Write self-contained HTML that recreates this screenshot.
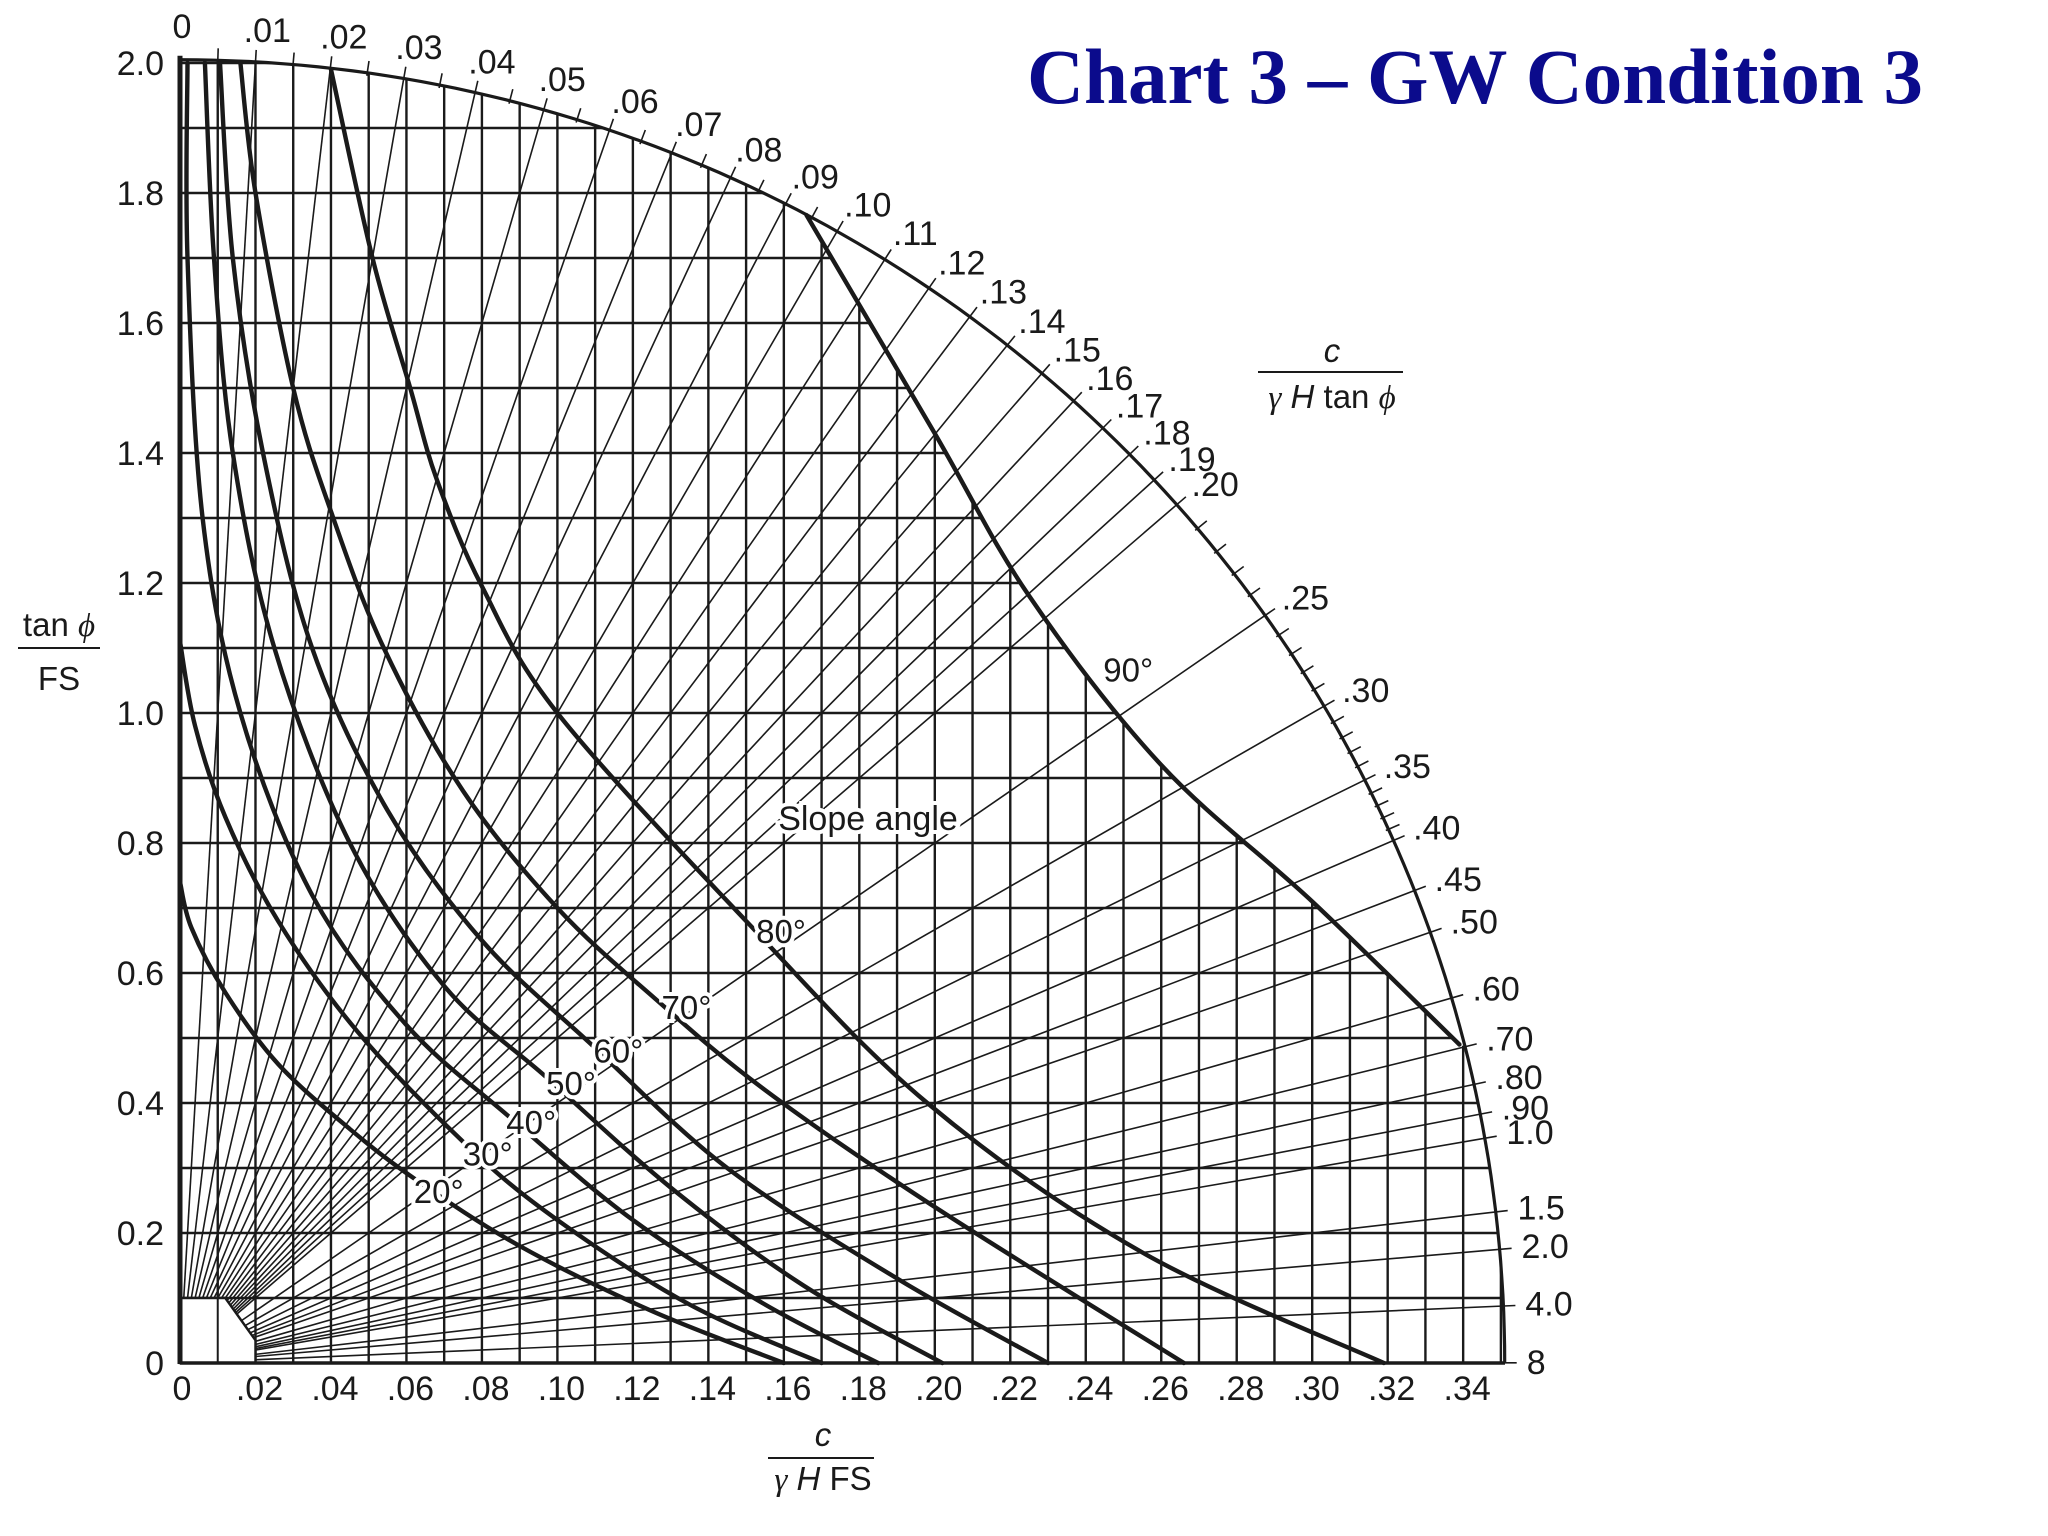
<!DOCTYPE html>
<html><head><meta charset="utf-8"><title>Chart 3 – GW Condition 3</title>
<style>
html,body{margin:0;padding:0;background:#fff;}
svg{display:block;}
text{font-family:"Liberation Sans",sans-serif;fill:#1a1a1a;}
</style></head>
<body>
<svg id="chart" width="2048" height="1536" viewBox="0 0 2048 1536" xmlns="http://www.w3.org/2000/svg">
<rect width="2048" height="1536" fill="#fff"/>
<text x="1027" y="103" textLength="896" lengthAdjust="spacingAndGlyphs" style="font-family:'Liberation Serif',serif;font-weight:bold;font-size:78px;fill:#0b0b8c">Chart 3 – GW Condition 3</text>
<g id="grid"></g><g id="rays"></g><g id="curves"></g><g id="labels"></g>
</svg>
<script>
// ---- data ----
const xTicks = [0,0.02,0.04,0.06,0.08,0.10,0.12,0.14,0.16,0.18,0.20,0.22,0.24,0.26,0.28,0.30,0.32,0.34];
const xTickLabels = ["0",".02",".04",".06",".08",".10",".12",".14",".16",".18",".20",".22",".24",".26",".28",".30",".32",".34"];
const yTicks = [0,0.2,0.4,0.6,0.8,1.0,1.2,1.4,1.6,1.8,2.0];
const yTickLabels = ["0","0.2","0.4","0.6","0.8","1.0","1.2","1.4","1.6","1.8","2.0"];
const rayValues = [0.01,0.02,0.03,0.04,0.05,0.06,0.07,0.08,0.09,0.10,0.11,0.12,0.13,0.14,0.15,0.16,0.17,0.18,0.19,0.20,0.25,0.30,0.35,0.40,0.45,0.50,0.60,0.70,0.80,0.90,1.0,1.5,2.0,4.0,1000];
const rayLabels = [".01",".02",".03",".04",".05",".06",".07",".08",".09",".10",".11",".12",".13",".14",".15",".16",".17",".18",".19",".20",".25",".30",".35",".40",".45",".50",".60",".70",".80",".90","1.0","1.5","2.0","4.0","8"];
const minorTicks = [0.005,0.015,0.025,0.035,0.045,0.055,0.065,0.075,0.085,0.095,0.21,0.22,0.23,0.24,0.26,0.27,0.28,0.29,0.31,0.32,0.33,0.34,0.36,0.37,0.38,0.39];
const slopeNames = ["20°","30°","40°","50°","60°","70°","80°","90°"];
const curve20 = [[0,0.74],[0.003,0.67],[0.012,0.57],[0.026,0.46],[0.045,0.36],[0.063,0.28],[0.09,0.18],[0.125,0.08],[0.160,0]];
const curve30 = [[0,1.11],[0.004,0.98],[0.012,0.84],[0.026,0.68],[0.047,0.51],[0.076,0.335],[0.10,0.22],[0.135,0.09],[0.170,0]];
const curve40 = [[0.002,2.0],[0.002,1.7],[0.006,1.3],[0.016,1.0],[0.035,0.72],[0.06,0.52],[0.087,0.38],[0.12,0.22],[0.155,0.09],[0.185,0]];
const curve50 = [[0.0066,2.0],[0.009,1.7],[0.014,1.4],[0.025,1.1],[0.045,0.8],[0.07,0.58],[0.097,0.44],[0.13,0.27],[0.165,0.12],[0.202,0]];
const curve60 = [[0.0106,2.0],[0.014,1.7],[0.022,1.4],[0.035,1.1],[0.055,0.85],[0.08,0.65],[0.109,0.49],[0.145,0.30],[0.19,0.13],[0.230,0]];
const curve70 = [[0.016,2.0],[0.020,1.8],[0.030,1.5],[0.040,1.31],[0.054,1.10],[0.075,0.88],[0.10,0.70],[0.126,0.56],[0.155,0.42],[0.20,0.24],[0.266,0]];
const curve80 = [[0.040,1.99],[0.051,1.70],[0.061,1.5],[0.068,1.36],[0.080,1.195],[0.100,1.0],[0.15,0.68],[0.198,0.40],[0.255,0.17],[0.319,0]];
const curve90 = [[0.166,1.766],[0.20,1.43],[0.225,1.18],[0.26,0.92],[0.30,0.71],[0.339,0.49]];
const slopeLabelPos = [[0.063,0.28],[0.076,0.335],[0.087,0.38],[0.097,0.44],[0.109,0.49],[0.126,0.56],[0.15,0.68],[0.242,1.07]];
const ellA = 0.351, ellB = 2.005;

// ---- scales ----
const X = c => 180 + c*3774;
const Y = t => 1363 - t*650;
const NS = "http://www.w3.org/2000/svg";
function mk(tag, parent, attrs){ const e=document.createElementNS(NS,tag); for(const k in attrs) e.setAttribute(k,attrs[k]); parent.appendChild(e); return e; }
function arcPt(l){ const x = 1/Math.sqrt(1/(ellA*ellA) + 1/(l*l*ellB*ellB)); return [x, x/l]; }
function ellY(c){ return c>=ellA?0:ellB*Math.sqrt(1-(c*c)/(ellA*ellA)); }
function ellX(t){ return t>=ellB?0:ellA*Math.sqrt(1-(t*t)/(ellB*ellB)); }
function smooth(pts){
  const p = pts.map(q=>[X(q[0]),Y(q[1])]);
  let d = "M"+p[0][0].toFixed(1)+","+p[0][1].toFixed(1);
  for(let i=0;i<p.length-1;i++){
    const p0=p[Math.max(0,i-1)],p1=p[i],p2=p[i+1],p3=p[Math.min(p.length-1,i+2)];
    const c1=[p1[0]+(p2[0]-p0[0])/6,p1[1]+(p2[1]-p0[1])/6];
    const c2=[p2[0]-(p3[0]-p1[0])/6,p2[1]-(p3[1]-p1[1])/6];
    d+=" C"+c1[0].toFixed(1)+","+c1[1].toFixed(1)+" "+c2[0].toFixed(1)+","+c2[1].toFixed(1)+" "+p2[0].toFixed(1)+","+p2[1].toFixed(1);
  }
  return d;
}
const svg = document.getElementById('chart');
const gGrid = document.getElementById('grid'), gRays=document.getElementById('rays'), gCurves=document.getElementById('curves'), gLab=document.getElementById('labels');

const defs = mk('defs', svg, {});
svg.insertBefore(defs, svg.firstChild);
const cp = mk('clipPath', defs, {id:'gridclip'});
let d = "M"+X(0)+","+Y(0)+" L"+X(0)+","+Y(ellB);
const pA = arcPt(0.10);
for(let i=1;i<=30;i++){ const c=pA[0]*i/30; d+=" L"+X(c).toFixed(1)+","+Y(ellY(c)).toFixed(1); }
d += " " + smooth(curve90).replace(/^M/,"L");
const pB = arcPt(0.70);
for(let i=0;i<=20;i++){ const t=pB[1]*(1-i/20); d+=" L"+X(ellX(t)).toFixed(1)+","+Y(t).toFixed(1); }
d+=" Z";
mk('path', cp, {d:d});

// grid
const gridG = mk('g', gGrid, {'clip-path':'url(#gridclip)', stroke:'#1a1a1a', 'stroke-width':'2.4', fill:'none'});


for(let k=1;k<=35;k++){ const c=k*0.01; const ln=mk('line', gridG, {x1:X(c),x2:X(c),y1:Y(0),y2:Y(ellY(c))});
  
   }
for(let k=1;k<=20;k++){ const t=k*0.1; const ln=mk('line', gridG, {x1:X(0),x2:X(ellX(t)),y1:Y(t),y2:Y(t)});
  
   }

// rays
const O=[X(0),Y(0)];
rayValues.forEach((l,i)=>{
  const p=arcPt(l); const P=[X(p[0]),Y(p[1])];
  const dx=P[0]-O[0], dy=P[1]-O[1], n=Math.hypot(dx,dy), u=[dx/n,dy/n];
  const ln=mk('line', gRays, {x1:O[0],y1:O[1],x2:(P[0]+u[0]*12).toFixed(1),y2:(P[1]+u[1]*12).toFixed(1),stroke:'#1a1a1a','stroke-width':'1.6'});
  
  
  let lx, ly, anchor;
  if(l<0.06){ lx=P[0]+u[0]*30+10; ly=P[1]+u[1]*30+10; anchor='middle'; }
  else { lx=P[0]+u[0]*30-8; ly=P[1]+u[1]*30+11; anchor='start'; }
  const tx=mk('text', gLab, {x:lx.toFixed(1),y:ly.toFixed(1),'font-size':'34','text-anchor':anchor});
  tx.textContent=rayLabels[i];
  
  
});
minorTicks.forEach(l=>{
  const p=arcPt(l); const P=[X(p[0]),Y(p[1])];
  const dx=P[0]-O[0], dy=P[1]-O[1], n=Math.hypot(dx,dy), u=[dx/n,dy/n];
  const ln=mk('line', gRays, {x1:(P[0]-u[0]*3).toFixed(1),y1:(P[1]-u[1]*3).toFixed(1),x2:(P[0]+u[0]*12).toFixed(1),y2:(P[1]+u[1]*12).toFixed(1),stroke:'#1a1a1a','stroke-width':'1.6'});
  
  
});
const zl=mk('text', gLab, {x:X(0)+2,y:38,'font-size':'34','text-anchor':'middle'}); zl.textContent='0';



// white box near origin
const wb=mk('path', gRays, {d:"M"+X(0)+","+Y(0)+" L"+X(0)+","+Y(0.1)+" L"+X(0.012)+","+Y(0.1)+" L"+X(0.02)+","+Y(0.035)+" L"+X(0.02)+","+Y(0)+" Z", fill:'#fff', stroke:'#1a1a1a','stroke-width':'2.4'});


const wbl=mk('line', gRays, {x1:X(0.01),x2:X(0.01),y1:Y(0),y2:Y(0.1),stroke:'#1a1a1a','stroke-width':'2'});



// outer arc
let ad="M"+X(0)+","+Y(ellB);
for(let i=1;i<=120;i++){ const th=Math.PI/2*(1-i/120); ad+=" L"+X(ellA*Math.cos(th)).toFixed(1)+","+Y(ellB*Math.sin(th)).toFixed(1); }
const arc=mk('path', gCurves, {d:ad, fill:'none', stroke:'#1a1a1a','stroke-width':'3.2'});



// axes
const ya=mk('line', gCurves, {x1:X(0),x2:X(0),y1:Y(0)+1,y2:Y(ellB)-4,stroke:'#1a1a1a','stroke-width':'5'});


const xa=mk('line', gCurves, {x1:X(0),x2:1505,y1:Y(0),y2:Y(0),stroke:'#1a1a1a','stroke-width':'3.5'});



// slope curves
[curve20,curve30,curve40,curve50,curve60,curve70,curve80,curve90].forEach((c,i)=>{
  const p=mk('path', gCurves, {d:smooth(c), fill:'none', stroke:'#1a1a1a','stroke-width':'4.4','stroke-linecap':'round'});
  
  
});
const labOff=[[-4,22],[-4,20],[-2,18],[0,18],[2,18],[6,20],[10,22],[10,14]];
slopeLabelPos.forEach((q,i)=>{
  const t=mk('text', gLab, {x:(X(q[0])+labOff[i][0]).toFixed(1),y:(Y(q[1])+labOff[i][1]).toFixed(1),'font-size':'33','text-anchor':'start',stroke:'#fff','stroke-width':'8','paint-order':'stroke'});
  t.textContent=slopeNames[i];
  
  
});

// tick labels
xTicks.forEach((c,i)=>{
  const t=mk('text', gLab, {x:X(c)+(i?4:2),y:1400,'font-size':'34','text-anchor':'middle'});
  t.textContent=xTickLabels[i];
  
  
});
yTicks.forEach((v,i)=>{
  const t=mk('text', gLab, {x:164,y:Y(v)+12,'font-size':'34','text-anchor':'end'});
  t.textContent=yTickLabels[i];
  
  
});

// axis titles
function txt(x,y,str,size,name,extra){const t=document.createElementNS(NS,'text');t.setAttribute('x',x);t.setAttribute('y',y);t.setAttribute('font-size',size);t.setAttribute('text-anchor','middle');if(extra)for(const k in extra)t.setAttribute(k,extra[k]);t.innerHTML=str;svg.appendChild(t);


return t;}
function bar(x1,x2,y,name){const l=document.createElementNS(NS,'line');l.setAttribute('x1',x1);l.setAttribute('x2',x2);l.setAttribute('y1',y);l.setAttribute('y2',y);l.setAttribute('stroke','#1a1a1a');l.setAttribute('stroke-width','2');svg.appendChild(l);

}
txt(59,636,'tan <tspan font-style="italic" font-family="Liberation Serif">ϕ</tspan>',33,'y-axis-title-numerator');
bar(18,100,648,'y-axis-title-bar');
txt(59,690,'FS',33,'y-axis-title-denominator');
txt(823,1446,'<tspan font-style="italic">c</tspan>',33,'x-axis-title-numerator');
bar(768,874,1458,'x-axis-title-bar');
txt(823,1490,'<tspan font-style="italic" font-family="Liberation Serif">γ</tspan> <tspan font-style="italic">H</tspan> FS',33,'x-axis-title-denominator');
txt(1332,362,'<tspan font-style="italic">c</tspan>',33,'ray-scale-title-numerator');
bar(1258,1403,372,'ray-scale-title-bar');
txt(1332,408,'<tspan font-style="italic" font-family="Liberation Serif">γ</tspan> <tspan font-style="italic">H</tspan> tan <tspan font-style="italic" font-family="Liberation Serif">ϕ</tspan>',33,'ray-scale-title-denominator');
txt(868,830,'Slope angle',34,'slope-angle-label',{stroke:'#fff','stroke-width':'8','paint-order':'stroke'});
</script>
</body></html>
